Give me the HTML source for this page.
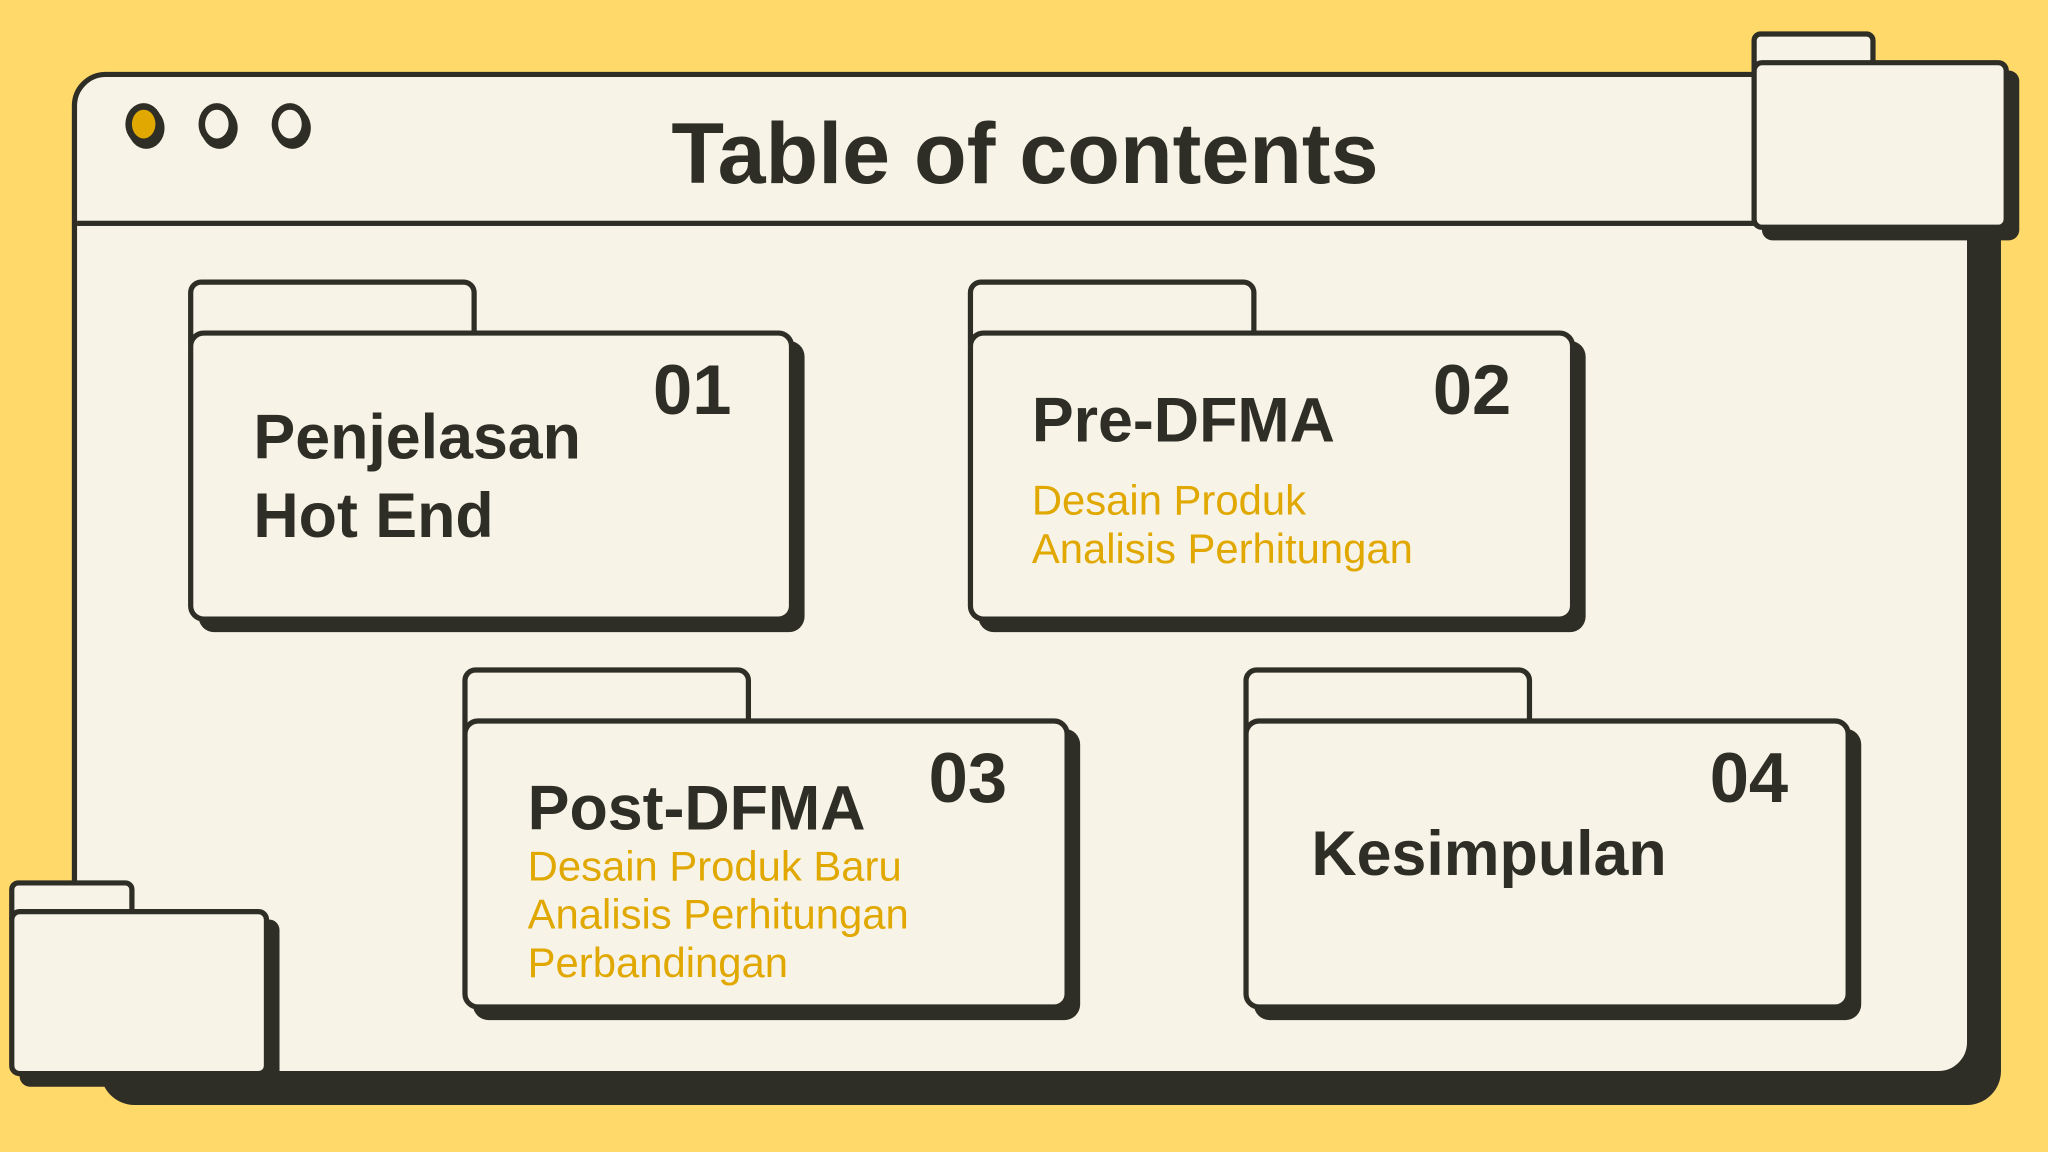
<!DOCTYPE html>
<html><head><meta charset="utf-8"><style>
html,body{margin:0;padding:0;width:2048px;height:1152px;overflow:hidden;background:#ffd96a;}
#s{position:absolute;left:0;top:0;width:1568px;height:882px;transform:scale(1.30612);transform-origin:0 0;font-family:"Liberation Sans",sans-serif;color:#2e2e26;}
.b{position:absolute;box-sizing:border-box;background:#f7f3e6;border:4px solid #2e2e26;}
.t{position:absolute;white-space:nowrap;}
.h{font-size:48px;line-height:60px;font-weight:bold;}
.n{font-size:54px;font-weight:bold;}
.y{color:#e0a800;font-size:32px;line-height:37px;}
.dot{position:absolute;width:28px;height:32px;border-radius:50%;box-sizing:border-box;border:5px solid #2e2e26;background:#f7f3e6;box-shadow:2px 3px 0 #2e2e26;}
</style></head><body><div id="s">
<div class="b" style="left:55px;top:55px;width:1455px;height:769px;border-radius:26px;box-shadow:22px 22px 0 #2e2e26;"></div>
<div style="position:absolute;left:59px;top:169px;width:1447px;height:4px;background:#2e2e26;"></div>
<div class="dot" style="left:96px;top:79px;background:#e0a800;"></div>
<div class="dot" style="left:152px;top:79px;"></div>
<div class="dot" style="left:208px;top:79px;"></div>
<div class="t" style="left:514px;top:77px;font-size:66px;line-height:80px;font-weight:bold;">Table of contents</div>
<div class="b" style="left:1341px;top:24px;width:95px;height:30px;border-radius:7px 7px 0 0;"></div>
<div class="b" style="left:1341px;top:46px;width:197px;height:130px;border-radius:8px;box-shadow:8px 8px 0 #2e2e26;"></div>
<div class="b" style="left:7px;top:674px;width:96px;height:30px;border-radius:7px 7px 0 0;"></div>
<div class="b" style="left:7px;top:696px;width:199px;height:128px;border-radius:8px;box-shadow:8px 8px 0 #2e2e26;"></div>
<div class="b" style="left:144px;top:214px;width:221px;height:50px;border-radius:10px 10px 0 0;"></div>
<div class="b" style="left:144px;top:253px;width:464px;height:223px;border-radius:12px;box-shadow:8px 8px 0 #2e2e26;"></div>
<div class="t n" style="left:500px;top:268px;">01</div>
<div class="t h" style="left:194px;top:306px;">Penjelasan<br>Hot End</div>
<div class="b" style="left:741px;top:214px;width:221px;height:50px;border-radius:10px 10px 0 0;"></div>
<div class="b" style="left:741px;top:253px;width:465px;height:223px;border-radius:12px;box-shadow:8px 8px 0 #2e2e26;"></div>
<div class="t n" style="left:1097px;top:268px;">02</div>
<div class="t h" style="left:790px;top:293px;">Pre-DFMA</div>
<div class="t y" style="left:790px;top:365px;">Desain Produk<br>Analisis Perhitungan</div>
<div class="b" style="left:354px;top:511px;width:221px;height:50px;border-radius:10px 10px 0 0;"></div>
<div class="b" style="left:354px;top:550px;width:465px;height:223px;border-radius:12px;box-shadow:8px 8px 0 #2e2e26;"></div>
<div class="t n" style="left:711px;top:565px;">03</div>
<div class="t h" style="left:404px;top:590px;">Post-DFMA</div>
<div class="t y" style="left:404px;top:645px;">Desain Produk Baru<br>Analisis Perhitungan<br>Perbandingan</div>
<div class="b" style="left:952px;top:511px;width:221px;height:50px;border-radius:10px 10px 0 0;"></div>
<div class="b" style="left:952px;top:550px;width:465px;height:223px;border-radius:12px;box-shadow:8px 8px 0 #2e2e26;"></div>
<div class="t n" style="left:1309px;top:565px;">04</div>
<div class="t h" style="left:1004px;top:625px;">Kesimpulan</div>
</div></body></html>
